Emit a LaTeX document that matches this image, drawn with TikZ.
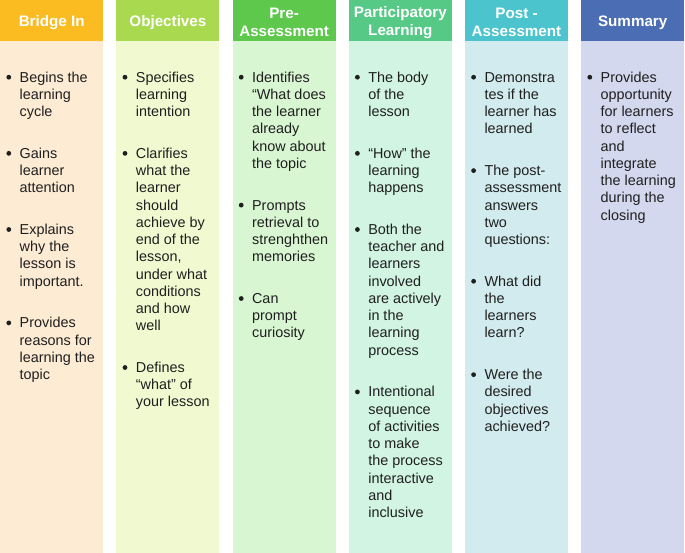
\documentclass[tikz,border=0pt]{standalone}
\usepackage{fontspec}
\setmainfont{Liberation Sans}
\usepackage{xcolor}
\usepackage{tikz}
\usetikzlibrary{positioning}
\definecolor{bridgehead}{HTML}{FBBC22}
\definecolor{bridgefill}{HTML}{FDEBD4}
\definecolor{objhead}{HTML}{A9D94F}
\definecolor{objfill}{HTML}{F1F9D0}
\definecolor{prehead}{HTML}{5DC84B}
\definecolor{prefill}{HTML}{D9F6D2}
\definecolor{parthead}{HTML}{56C987}
\definecolor{partfill}{HTML}{D1F4E3}
\definecolor{posthead}{HTML}{4CC4CD}
\definecolor{postfill}{HTML}{D2EBEF}
\definecolor{sumhead}{HTML}{4A6DB4}
\definecolor{sumfill}{HTML}{D4D8EE}
\tikzset{
  head/.style={anchor=north west, inner sep=0pt, minimum width=103pt, minimum height=40.5pt},
  headtext/.style={align=center, text=white, font=\fontsize{15.2}{18}\selectfont\bfseries},
  body/.style={anchor=north, inner sep=0pt, minimum width=103pt, minimum height=511.5pt},
  point/.style={anchor=north west, inner sep=0pt, align=left, text=black!88,
    font=\fontsize{14.4}{17.25}\selectfont},
  under/.style={below=24pt of #1.south west, anchor=north west}
}
\begin{document}
\begin{tikzpicture}[x=1pt,y=1pt]
\useasboundingbox (0,0) rectangle (685,-552);
\foreach \n/\x/\hc/\bc/\title in {bridge/0/bridgehead/bridgefill/{Bridge In},
    obj/116.2/objhead/objfill/{Objectives},
    pre/232.4/prehead/prefill/{Pre-\\Assessment},
    part/348.6/parthead/partfill/{Participatory\\Learning},
    post/464.8/posthead/postfill/{Post -\\Assessment},
    sum/581/sumhead/sumfill/{Summary}}
{
  \node[head, fill=\hc, label={[headtext, yshift=-2.2pt]center:\title}] (\n) at (\x,0) {};
  \node[body, fill=\bc, below=0pt of \n] (\n-body) {};
}
%% Bridge In
\node[point] (bridge1) at ([xshift=19.5pt,yshift=-29pt]bridge-body.north west) {\strut Begins the\\learning\\cycle\strut};
\node[point, under=bridge1] (bridge2) {\strut Gains\\learner\\attention\strut};
\node[point, under=bridge2] (bridge3) {\strut Explains\\why the\\lesson is\\important.\strut};
\node[point, under=bridge3] (bridge4) {\strut Provides\\reasons for\\learning the\\topic\strut};
%% Objectives
\node[point] (obj1) at ([xshift=19.5pt,yshift=-29pt]obj-body.north west) {\strut Specifies\\learning\\intention\strut};
\node[point, under=obj1] (obj2) {\strut Clarifies\\what the\\learner\\should\\achieve by\\end of the\\lesson,\\under what\\conditions\\and how\\well\strut};
\node[point, under=obj2] (obj3) {\strut Defines\\“what” of\\your lesson\strut};
%% Pre-Assessment
\node[point] (pre1) at ([xshift=19.5pt,yshift=-29pt]pre-body.north west) {\strut Identifies\\“What does\\the learner\\already\\know about\\the topic\strut};
\node[point, under=pre1] (pre2) {\strut Prompts\\retrieval to\\strenghthen\\memories\strut};
\node[point, under=pre2] (pre3) {\strut Can\\prompt\\curiosity\strut};
%% Participatory Learning
\node[point] (part1) at ([xshift=19.5pt,yshift=-29pt]part-body.north west) {\strut The body\\of the\\lesson\strut};
\node[point, under=part1] (part2) {\strut “How” the\\learning\\happens\strut};
\node[point, under=part2] (part3) {\strut Both the\\teacher and\\learners\\involved\\are actively\\in the\\learning\\process\strut};
\node[point, under=part3] (part4) {\strut Intentional\\sequence\\of activities\\to make\\the process\\interactive\\and\\inclusive\strut};
%% Post - Assessment
\node[point] (post1) at ([xshift=19.5pt,yshift=-29pt]post-body.north west) {\strut Demonstra\\tes if the\\learner has\\learned\strut};
\node[point, under=post1] (post2) {\strut The post-\\assessment\\answers\\two\\questions:\strut};
\node[point, under=post2] (post3) {\strut What did\\the\\learners\\learn?\strut};
\node[point, under=post3] (post4) {\strut Were the\\desired\\objectives\\achieved?\strut};
%% Summary
\node[point] (sum1) at ([xshift=19.5pt,yshift=-29pt]sum-body.north west) {\strut Provides\\opportunity\\for learners\\to reflect\\and\\integrate\\the learning\\during the\\closing\strut};
%% bullets
\foreach \p in {bridge1,bridge2,bridge3,bridge4,obj1,obj2,obj3,pre1,pre2,pre3,
    part1,part2,part3,part4,post1,post2,post3,post4,sum1}
  \fill[black!88] ([shift={(-10.7,-7.3)}]\p.north west) circle (2.4);
\end{tikzpicture}
\end{document}
